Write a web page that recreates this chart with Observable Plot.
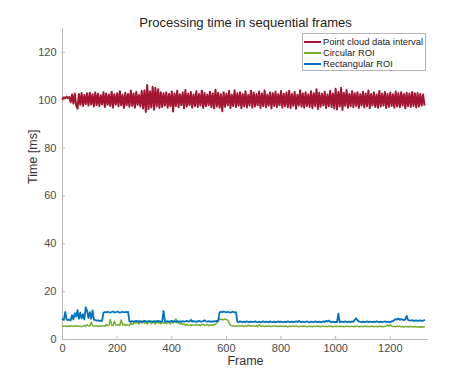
<!DOCTYPE html>
<html>
<head>
<meta charset="utf-8">
<script src="https://cdn.jsdelivr.net/npm/d3@7"></script>
<script src="https://cdn.jsdelivr.net/npm/@observablehq/plot@0.6"></script>
<style>
  body { margin: 0; background: #fff; }
  #wrap { position: relative; width: 474px; height: 381px; font-family: "Liberation Sans", Arial, sans-serif; }
  #legend { position: absolute; left: 302px; top: 33px; width: 124px; height: 38px; border: 1px solid #b5b5b5; background: #fff; box-sizing: border-box; }
  .row { position: absolute; left: 1px; height: 11px; font-size: 9.4px; line-height: 11px; color: #222; white-space: nowrap; }
  .row span.sw { display: inline-block; width: 17px; height: 2px; vertical-align: middle; margin-right: 2px; position: relative; top: -1px; }
</style>
</head>
<body>
<div id="wrap"></div>
<script>
const titleText = "Processing time in sequential frames";
const xLabel = "Frame";
const yLabel = "Time [ms]";
const seriesNames = ["Point cloud data interval", "Circular ROI", "Rectangular ROI"];
const seriesColors = ["#A2142F", "#77AC30", "#0072BD"];
const xTicks = [0, 200, 400, 600, 800, 1000, 1200];
const yTicks = [0, 20, 40, 60, 80, 100, 120];

// frames sampled every 5 frames
const frames = d3.range(0, 1330, 5);

const pointCloud = [
100.5,101.2,100.8,101.5,100.9,101.3,99.2,102.4,98.6,102.8,97.9,96.5,102.6,98.1,103.0,97.6,102.2,98.4,102.9,97.8,
103.1,98.2,102.5,97.4,103.3,98.0,102.7,97.5,102.1,98.3,103.4,97.2,102.8,98.1,102.4,97.6,103.6,97.0,102.5,98.2,
102.9,97.5,103.8,97.9,102.3,96.8,103.1,98.0,102.6,97.3,104.1,97.7,102.8,96.9,103.5,98.1,102.2,97.4,103.9,96.6,
104.2,95.1,106.4,96.3,103.8,97.0,105.6,96.1,105.2,97.4,104.6,96.8,103.4,97.2,102.9,97.8,103.3,96.9,102.6,97.5,
103.7,95.3,102.8,97.6,104.0,97.1,102.5,98.0,103.2,96.7,104.3,97.4,102.7,97.9,103.5,96.9,102.4,97.6,103.8,97.2,
102.6,97.8,104.1,96.8,103.0,97.5,102.4,98.0,103.6,97.1,102.8,96.6,104.4,97.4,103.1,96.9,102.5,95.4,103.4,97.3,
102.7,97.9,103.9,96.8,102.3,97.6,104.2,97.2,102.9,97.8,103.4,96.7,102.6,97.5,103.8,97.0,102.2,97.8,104.0,96.9,
103.2,97.4,102.6,97.9,103.7,96.8,102.8,97.5,104.1,97.1,102.4,97.8,103.3,96.6,102.9,97.6,103.6,97.2,102.5,97.9,
103.9,96.9,102.7,97.5,103.2,97.1,104.0,96.8,102.6,97.7,103.5,96.5,102.3,97.8,104.2,97.3,102.8,96.9,103.4,97.6,
102.5,97.2,103.8,96.7,102.9,97.6,104.6,96.4,103.1,97.3,102.7,97.9,103.6,96.8,102.4,97.5,104.0,97.1,102.8,96.6,
104.8,96.2,103.5,97.4,105.2,96.0,103.1,97.7,104.3,96.9,102.6,97.5,103.8,97.1,102.9,97.6,103.4,96.8,102.5,97.8,
103.6,97.0,102.8,97.5,104.1,96.7,102.6,97.9,103.3,97.2,102.4,96.9,103.9,97.4,102.7,97.8,103.5,96.8,102.6,97.3,
103.2,97.6,102.5,96.9,103.7,97.4,102.9,97.1,103.4,97.8,102.6,96.7,103.1,97.5,102.8,97.2,103.5,97.6,102.9,97.0,
103.0,97.4,102.6,97.8,102.4,98.1
];

const circularROI = [
5.6,5.5,5.7,5.4,5.6,5.5,5.7,5.6,5.4,5.8,5.5,5.6,5.7,5.5,5.4,5.6,5.9,5.5,6.2,5.6,
5.7,7.2,5.8,5.6,5.5,5.7,5.4,5.6,5.5,5.8,5.6,5.5,6.3,5.7,5.9,8.4,6.0,5.8,7.6,6.1,
6.0,6.3,5.9,8.2,6.1,6.4,5.9,6.2,6.0,5.8,7.0,6.3,6.6,7.4,6.8,7.2,6.5,7.8,6.9,7.5,
6.8,7.6,6.5,7.2,7.9,6.6,7.0,7.4,6.4,7.7,6.9,7.2,6.5,7.5,6.8,7.1,6.6,7.3,7.0,6.5,
7.4,6.8,7.9,8.6,6.9,7.2,6.4,6.8,6.2,6.5,6.0,6.3,5.9,6.1,5.8,6.2,6.0,5.9,6.3,6.0,
6.1,5.8,6.2,6.4,5.9,6.0,6.3,5.8,6.1,5.9,6.2,6.0,6.4,6.8,8.3,8.6,8.4,8.5,8.2,8.6,
8.4,8.1,7.0,6.0,5.8,5.6,5.7,5.5,5.6,5.8,5.5,5.7,5.6,5.4,5.7,5.5,6.0,5.6,5.5,5.7,
5.6,5.5,5.8,5.4,6.2,5.6,5.5,5.7,5.4,5.6,5.5,5.7,5.6,5.4,5.5,5.7,5.6,5.5,5.4,5.6,
5.5,5.7,5.4,5.6,5.5,5.3,5.6,5.4,5.5,5.7,5.4,5.6,5.5,5.3,5.6,5.4,5.5,5.6,5.4,5.3,
5.6,5.4,5.5,5.3,5.6,5.4,5.5,5.7,5.4,5.3,5.5,5.6,5.4,5.5,5.3,5.6,5.4,5.5,5.3,5.6,
5.4,5.5,5.3,5.6,5.4,5.5,5.3,5.4,5.6,5.5,5.3,5.4,5.6,5.3,5.5,5.4,5.6,5.3,5.4,5.5,
5.3,5.6,5.4,5.5,5.3,5.4,5.6,5.5,5.3,5.4,5.5,5.3,5.6,5.4,5.5,5.3,5.4,5.6,6.0,5.5,
6.2,5.6,5.4,5.5,5.3,5.6,5.4,5.5,5.3,5.4,5.2,5.5,5.3,5.4,5.2,5.5,5.3,5.2,5.4,5.3,
5.2,5.3,5.1,5.3,5.2,5.3
];

const rectangularROI = [
8.5,8.2,11.5,8.4,8.1,8.3,8.0,10.2,8.4,11.0,9.5,12.3,8.6,11.2,8.8,10.5,8.4,13.5,12.0,9.0,
11.4,8.6,12.2,8.3,8.1,7.9,8.0,7.8,7.9,7.8,
11.2,11.5,11.3,11.6,11.4,11.2,11.5,11.7,11.3,11.4,11.6,11.5,11.2,11.4,11.6,11.3,11.5,11.4,11.6,
7.6,7.5,7.7,7.4,7.6,7.8,7.5,7.7,7.4,7.6,7.5,7.8,7.6,7.4,7.7,7.5,7.6,7.4,7.7,7.6,
7.5,7.8,7.6,7.4,7.7,12.0,7.6,7.5,7.7,7.4,7.6,7.8,7.5,7.6,7.4,7.7,7.5,7.6,7.4,7.7,
7.5,7.6,7.8,7.5,7.6,8.2,7.5,7.7,7.4,7.6,7.5,7.8,7.6,7.5,7.7,8.0,7.6,7.5,7.7,7.4,
7.6,7.5,7.7,7.6,7.8,7.6,
11.3,11.6,11.4,11.7,11.5,11.3,11.6,11.4,11.2,11.5,11.6,11.3,11.4,
7.5,7.3,7.6,7.4,7.2,7.5,7.3,7.6,7.4,7.2,7.5,7.4,7.3,7.6,7.4,7.3,7.5,7.2,7.4,7.6,
7.3,7.5,7.4,7.2,7.6,7.4,7.3,7.5,7.2,7.4,7.6,7.3,7.5,7.4,7.2,7.5,7.3,7.6,7.4,7.3,
7.5,7.2,7.4,7.6,7.3,7.8,7.4,7.2,7.5,7.3,7.4,7.6,7.3,7.2,7.5,7.4,7.3,7.6,7.4,7.2,
7.5,7.3,7.4,7.6,7.3,7.8,7.5,7.9,7.4,7.2,7.5,7.3,7.4,7.3,10.8,7.2,7.5,7.4,7.3,7.6,
7.4,7.2,7.5,7.3,7.6,7.4,8.2,8.9,8.0,7.6,7.4,7.3,7.5,7.2,7.4,7.6,7.3,7.5,7.4,7.2,
7.5,7.3,7.6,7.4,7.2,7.5,7.3,7.4,7.6,7.3,7.5,7.4,7.2,7.6,7.8,8.1,8.6,8.3,8.8,8.2,
8.5,8.3,8.1,8.4,9.9,8.2,8.0,7.9,8.1,7.8,7.9,8.0,7.8,7.9,8.0,7.8,7.9,8.1
];

const seriesValues = [pointCloud, circularROI, rectangularROI];
const table = seriesValues.map(vals => vals.map((v, i) => ({frame: frames[i], value: v})));

const axisColor = "#b8b8b8";
const labelColor = "#4a4a4a";

const chart = Plot.plot({
  width: 474,
  height: 381,
  marginTop: 28,
  marginLeft: 62,
  marginRight: 46,
  marginBottom: 42,
  style: {fontFamily: "'Liberation Sans', Arial, sans-serif", fontSize: "11px", color: labelColor, background: "#fff"},
  x: {domain: [0, 1340]},
  y: {domain: [0, 130]},
  marks: [
    Plot.ruleY([0], {stroke: axisColor, strokeWidth: 1}),
    Plot.ruleX([0], {stroke: axisColor, strokeWidth: 1}),
    Plot.ruleX(xTicks, {x: d => d, y1: 0, y2: 1.3, stroke: axisColor}),
    Plot.ruleY(yTicks, {y: d => d, x1: 0, x2: 11, stroke: axisColor}),
    Plot.axisX({ticks: xTicks, tickSize: 0, tickPadding: 5, tickFormat: d3.format("d"), label: null, fill: labelColor, fontSize: 11}),
    Plot.axisY({ticks: yTicks, tickSize: 0, tickPadding: 6, tickFormat: d3.format("d"), label: null, fill: labelColor, fontSize: 11}),
    ...table.map((rows, k) => Plot.line(rows, {x: "frame", y: "value", stroke: seriesColors[k], strokeWidth: k === 0 ? 2 : (k === 2 ? 1.8 : 1.5)})),
    Plot.text([titleText], {frameAnchor: "top", dy: -11, fontSize: 13, fill: "#222"}),
    Plot.text([xLabel], {frameAnchor: "bottom", dy: 25, fontSize: 12.5, fill: "#333"}),
    Plot.text([yLabel], {frameAnchor: "left", dx: -30, rotate: -90, fontSize: 12.5, fill: "#333"})
  ]
});

const wrap = document.getElementById("wrap");
wrap.appendChild(chart);

const legend = document.createElement("div");
legend.id = "legend";
seriesNames.forEach((name, k) => {
  const row = document.createElement("div");
  row.className = "row";
  row.style.top = (2 + k * 11) + "px";
  const sw = document.createElement("span");
  sw.className = "sw";
  sw.style.background = seriesColors[k];
  row.appendChild(sw);
  row.appendChild(document.createTextNode(name));
  legend.appendChild(row);
});
wrap.appendChild(legend);
</script>
</body>
</html>
